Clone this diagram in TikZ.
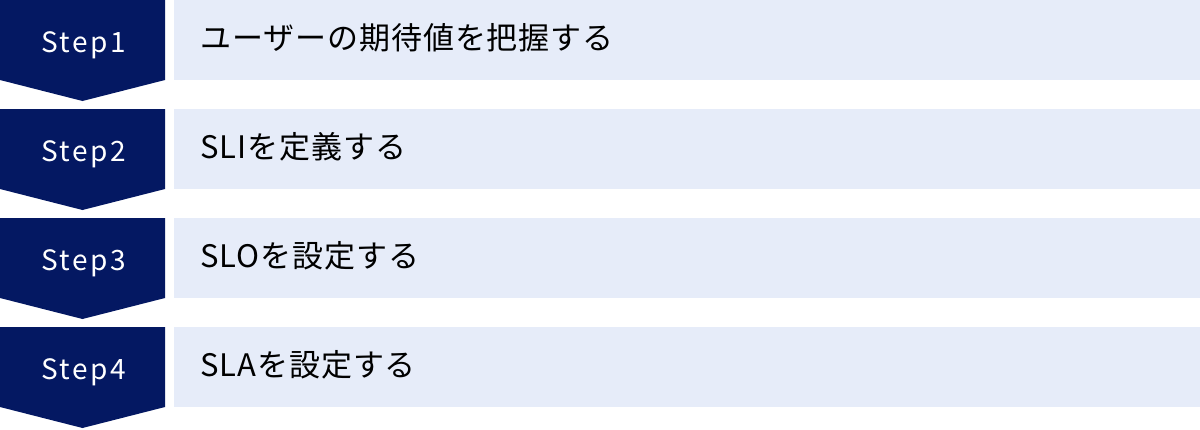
\documentclass[tikz,border=0pt]{standalone}
\usepackage{fontspec}
\newfontfamily\jpfont{Noto Sans CJK JP}
\usetikzlibrary{positioning}
\definecolor{stepnavy}{RGB}{4,24,98}
\definecolor{rowblue}{RGB}{230,236,249}
\tikzset{
  steplabel/.style={text=white,anchor=base,inner sep=0pt,
    font=\jpfont\addfontfeature{LetterSpace=9}\fontsize{28}{28}\selectfont},
  rowtext/.style={anchor=base west,inner sep=0pt,
    font=\jpfont\addfontfeature{LetterSpace=3}\fontsize{31}{31}\selectfont}
}

\begin{document}
\begin{tikzpicture}[x=1pt,y=-1pt]
  \useasboundingbox (0,0) rectangle (1200,429);

  % one row per step
  \foreach \n/\t in {
      1/ユーザーの期待値を把握する,
      2/SLIを定義する,
      3/SLOを設定する,
      4/SLAを設定する
  } {
      \pgfmathsetmacro{\y}{(\n-1)*109}
      \fill[rowblue] (174,\y) rectangle (1200,\y+80);
      \fill[stepnavy] (0,\y) -- (165,\y) -- (165,\y+80)
          -- (82.5,\y+101) -- (0,\y+80) -- cycle;
      \node[steplabel] (step\n) at (83.5,\y+52) {Step\n};
      \node[rowtext] (text\n) at (200,\y+49) {\t};
  }
\end{tikzpicture}
\end{document}
